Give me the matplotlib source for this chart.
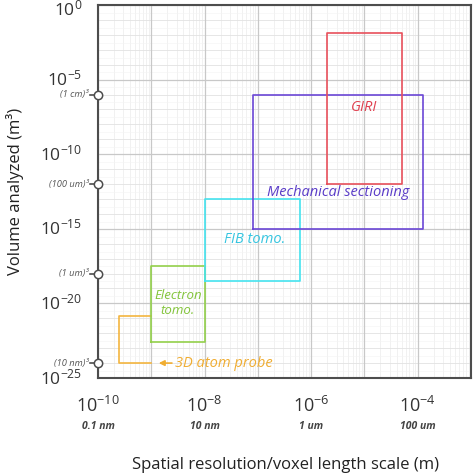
import numpy as np
import matplotlib
matplotlib.use("Agg")
import matplotlib.pyplot as plt
from matplotlib.transforms import blended_transform_factory, offset_copy

plt.rcParams['font.family'] = ['Open Sans', 'DejaVu Sans']
plt.rcParams['mathtext.fontset'] = 'custom'
plt.rcParams['mathtext.rm'] = 'Open Sans'
plt.rcParams['mathtext.it'] = 'Open Sans:italic'

# technique boxes: (name, x range in m, y range in m^3)
names = ['3D atom probe', 'Electron\ntomo.', 'FIB tomo.', 'Mechanical sectioning', 'GIRI']
x_lo = [2.5e-10, 1e-9, 1e-8, 10**-7.1, 10**-5.7]
x_hi = [1e-9, 1e-8, 10**-6.2, 10**-3.9, 10**-4.3]
y_lo = [1e-24, 10**-22.6, 10**-18.5, 1e-15, 1e-12]
y_hi = [1.5e-21, 10**-17.5, 1e-13, 1e-6, 10**-1.9]
box_col = ['#f4b53f', '#93d04a', '#45e3ef', '#6b47d6', '#e8505b']
txt_col = ['#f0ad32', '#82c43a', '#35c5e0', '#5a3cc8', '#e0404f']
txt_x = [10**-8.56, 10**-8.5, 10**-7.07, 10**-5.5, 1e-5]
txt_y = [1e-24, 1e-20, 10**-15.75, 10**-12.56, 10**-6.9]

# reference volumes on the y axis
ref_vol = [1e-6, 1e-12, 1e-18, 1e-24]
ref_lab = ['(1 cm)³', '(100 um)³', '(1 um)³', '(10 nm)³']

xticks = [1e-10, 1e-8, 1e-6, 1e-4]
xtick_exp = ['-10', '-8', '-6', '-4']
xtick_units = ['0.1 nm', '10 nm', '1 um', '100 um']
yticks = [1e0, 1e-5, 1e-10, 1e-15, 1e-20, 1e-25]
ytick_exp = ['0', '-5', '-10', '-15', '-20', '-25']

fig = plt.figure(figsize=(4.74, 4.74), dpi=100)
ax = fig.add_axes([98/474, 1-378/474, 373/474, 373/474])
ax.set_xscale('log')
ax.set_yscale('log')
ax.set_xlim(1e-10, 1e-3)
ax.set_ylim(1e-25, 1e0)

# grid
for e in range(-10, -3):
    for m in range(2, 10):
        ax.axvline(m*10.0**e, color='#ececec', lw=0.5, zorder=0)
    ax.axvline(10.0**e, color='#c8c8c8', lw=0.9, zorder=0.5)
for e in range(-25, 1):
    ax.axhline(3*10.0**e, color='#f3f3f3', lw=0.4, zorder=0)
    if e % 5 == 0:
        ax.axhline(10.0**e, color='#c8c8c8', lw=0.9, zorder=0.5)
    else:
        ax.axhline(10.0**e, color='#e2e2e2', lw=0.6, zorder=0.4)

for s in ax.spines.values():
    s.set_color('#4d4d4d')
    s.set_linewidth(1.5)

ax.set_xticks([])
ax.set_yticks([])
ax.minorticks_off()

# boxes
for i in range(len(names)):
    if i == 0:
        ax.plot([x_hi[i], x_lo[i], x_lo[i], x_hi[i]], [y_hi[i], y_hi[i], y_lo[i], y_lo[i]],
                color=box_col[i], lw=1.2, zorder=2)
    else:
        ax.plot([x_lo[i], x_hi[i], x_hi[i], x_lo[i], x_lo[i]],
                [y_lo[i], y_lo[i], y_hi[i], y_hi[i], y_lo[i]],
                color=box_col[i], lw=1.2, zorder=2)

for i in range(1, len(names)):
    ax.text(txt_x[i], txt_y[i], names[i], color=txt_col[i],
            fontsize=9.5 if i == 1 else 10.5,
            style='italic', ha='center', va='center', linespacing=1.2, zorder=3)

ax.annotate(names[0], xy=(10**-8.86, txt_y[0]), xytext=(txt_x[0], txt_y[0]),
            color=txt_col[0], fontsize=10.5, style='italic', ha='left', va='center',
            arrowprops=dict(arrowstyle='-|>', color=txt_col[0], lw=1.2,
                            mutation_scale=8, shrinkA=0, shrinkB=0), zorder=3)

# reference volumes on y axis
bt = blended_transform_factory(ax.transAxes, ax.transData)
for v, lab in zip(ref_vol, ref_lab):
    ax.plot([-0.022, 0], [v, v], color='#4d4d4d', lw=1.2, transform=bt, clip_on=False, zorder=4)
    ax.plot([1e-10], [v], marker='o', ms=6, mfc='white', mec='#4d4d4d', mew=1.1,
            clip_on=False, zorder=5)
    ax.text(-0.025, v, lab, transform=bt, ha='right', va='center', fontsize=6.7,
            style='italic', color='#555555')

# y tick labels
for v, e in zip(yticks, ytick_exp):
    tr = offset_copy(bt, fig=fig, x=0, y=-3 if v == 1e0 else 0, units='points')
    ax.text(-0.043, v, r'$\mathregular{10^{%s}}$' % e, transform=tr, ha='right',
            va='center', fontsize=12.5, color='#333333')

# x tick labels
bx = blended_transform_factory(ax.transData, ax.transAxes)
for v, e, u in zip(xticks, xtick_exp, xtick_units):
    ax.text(v, -0.075, r'$\mathregular{10^{%s}}$' % e, transform=bx, ha='center',
            va='center', fontsize=13, color='#333333')
    ax.text(v, -0.13, u, transform=bx, ha='center', va='center', fontsize=7.5,
            style='italic', fontweight='bold', color='#444444')

fig.text(285/474, 1-465/474, 'Spatial resolution/voxel length scale (m)', ha='center',
         va='center', fontsize=12, color='#222222')
fig.text(15/474, 1-191/474, 'Volume analyzed (m³)', ha='center', va='center',
         rotation=90, fontsize=12, color='#222222')

fig.savefig('out.png', dpi=100)
